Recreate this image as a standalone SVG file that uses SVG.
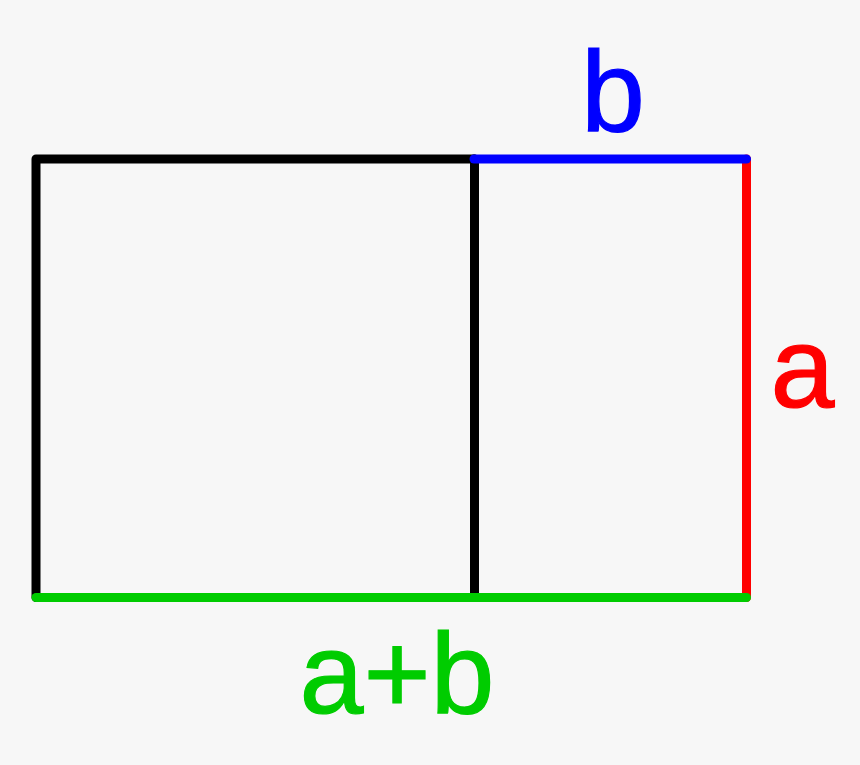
<svg xmlns="http://www.w3.org/2000/svg" width="860" height="765" viewBox="0 0 860 765">
<style>
.ln{fill:none;stroke-width:9;stroke-linecap:round;stroke-linejoin:round}
.lbl{font-family:"Liberation Sans","DejaVu Sans",sans-serif;font-size:115px;text-anchor:middle;stroke-width:1.2}
</style>
<rect width="860" height="765" fill="#f7f7f7"/>
<g id="edges">
<path class="ln" stroke="#000000" d="M474,159 H36 V597.5"/>
<path class="ln" stroke="#000000" d="M474.5,159 V597.5"/>
<path class="ln" stroke="#ff0000" d="M746.5,159 V597.5"/>
<path class="ln" stroke="#0000ff" d="M474,159 H746.5"/>
<path class="ln" stroke="#00cc00" d="M36,597.5 H746.5"/>
</g>
<g id="label-b"><text class="lbl" x="613" y="131" fill="#0000ff" stroke="#0000ff">b</text></g>
<g id="label-a"><text class="lbl" x="802.5" y="407" fill="#ff0000" stroke="#ff0000">a</text></g>
<g id="label-ab"><text class="lbl" x="397" y="713" fill="#00cc00" stroke="#00cc00">a+b</text></g>
</svg>
